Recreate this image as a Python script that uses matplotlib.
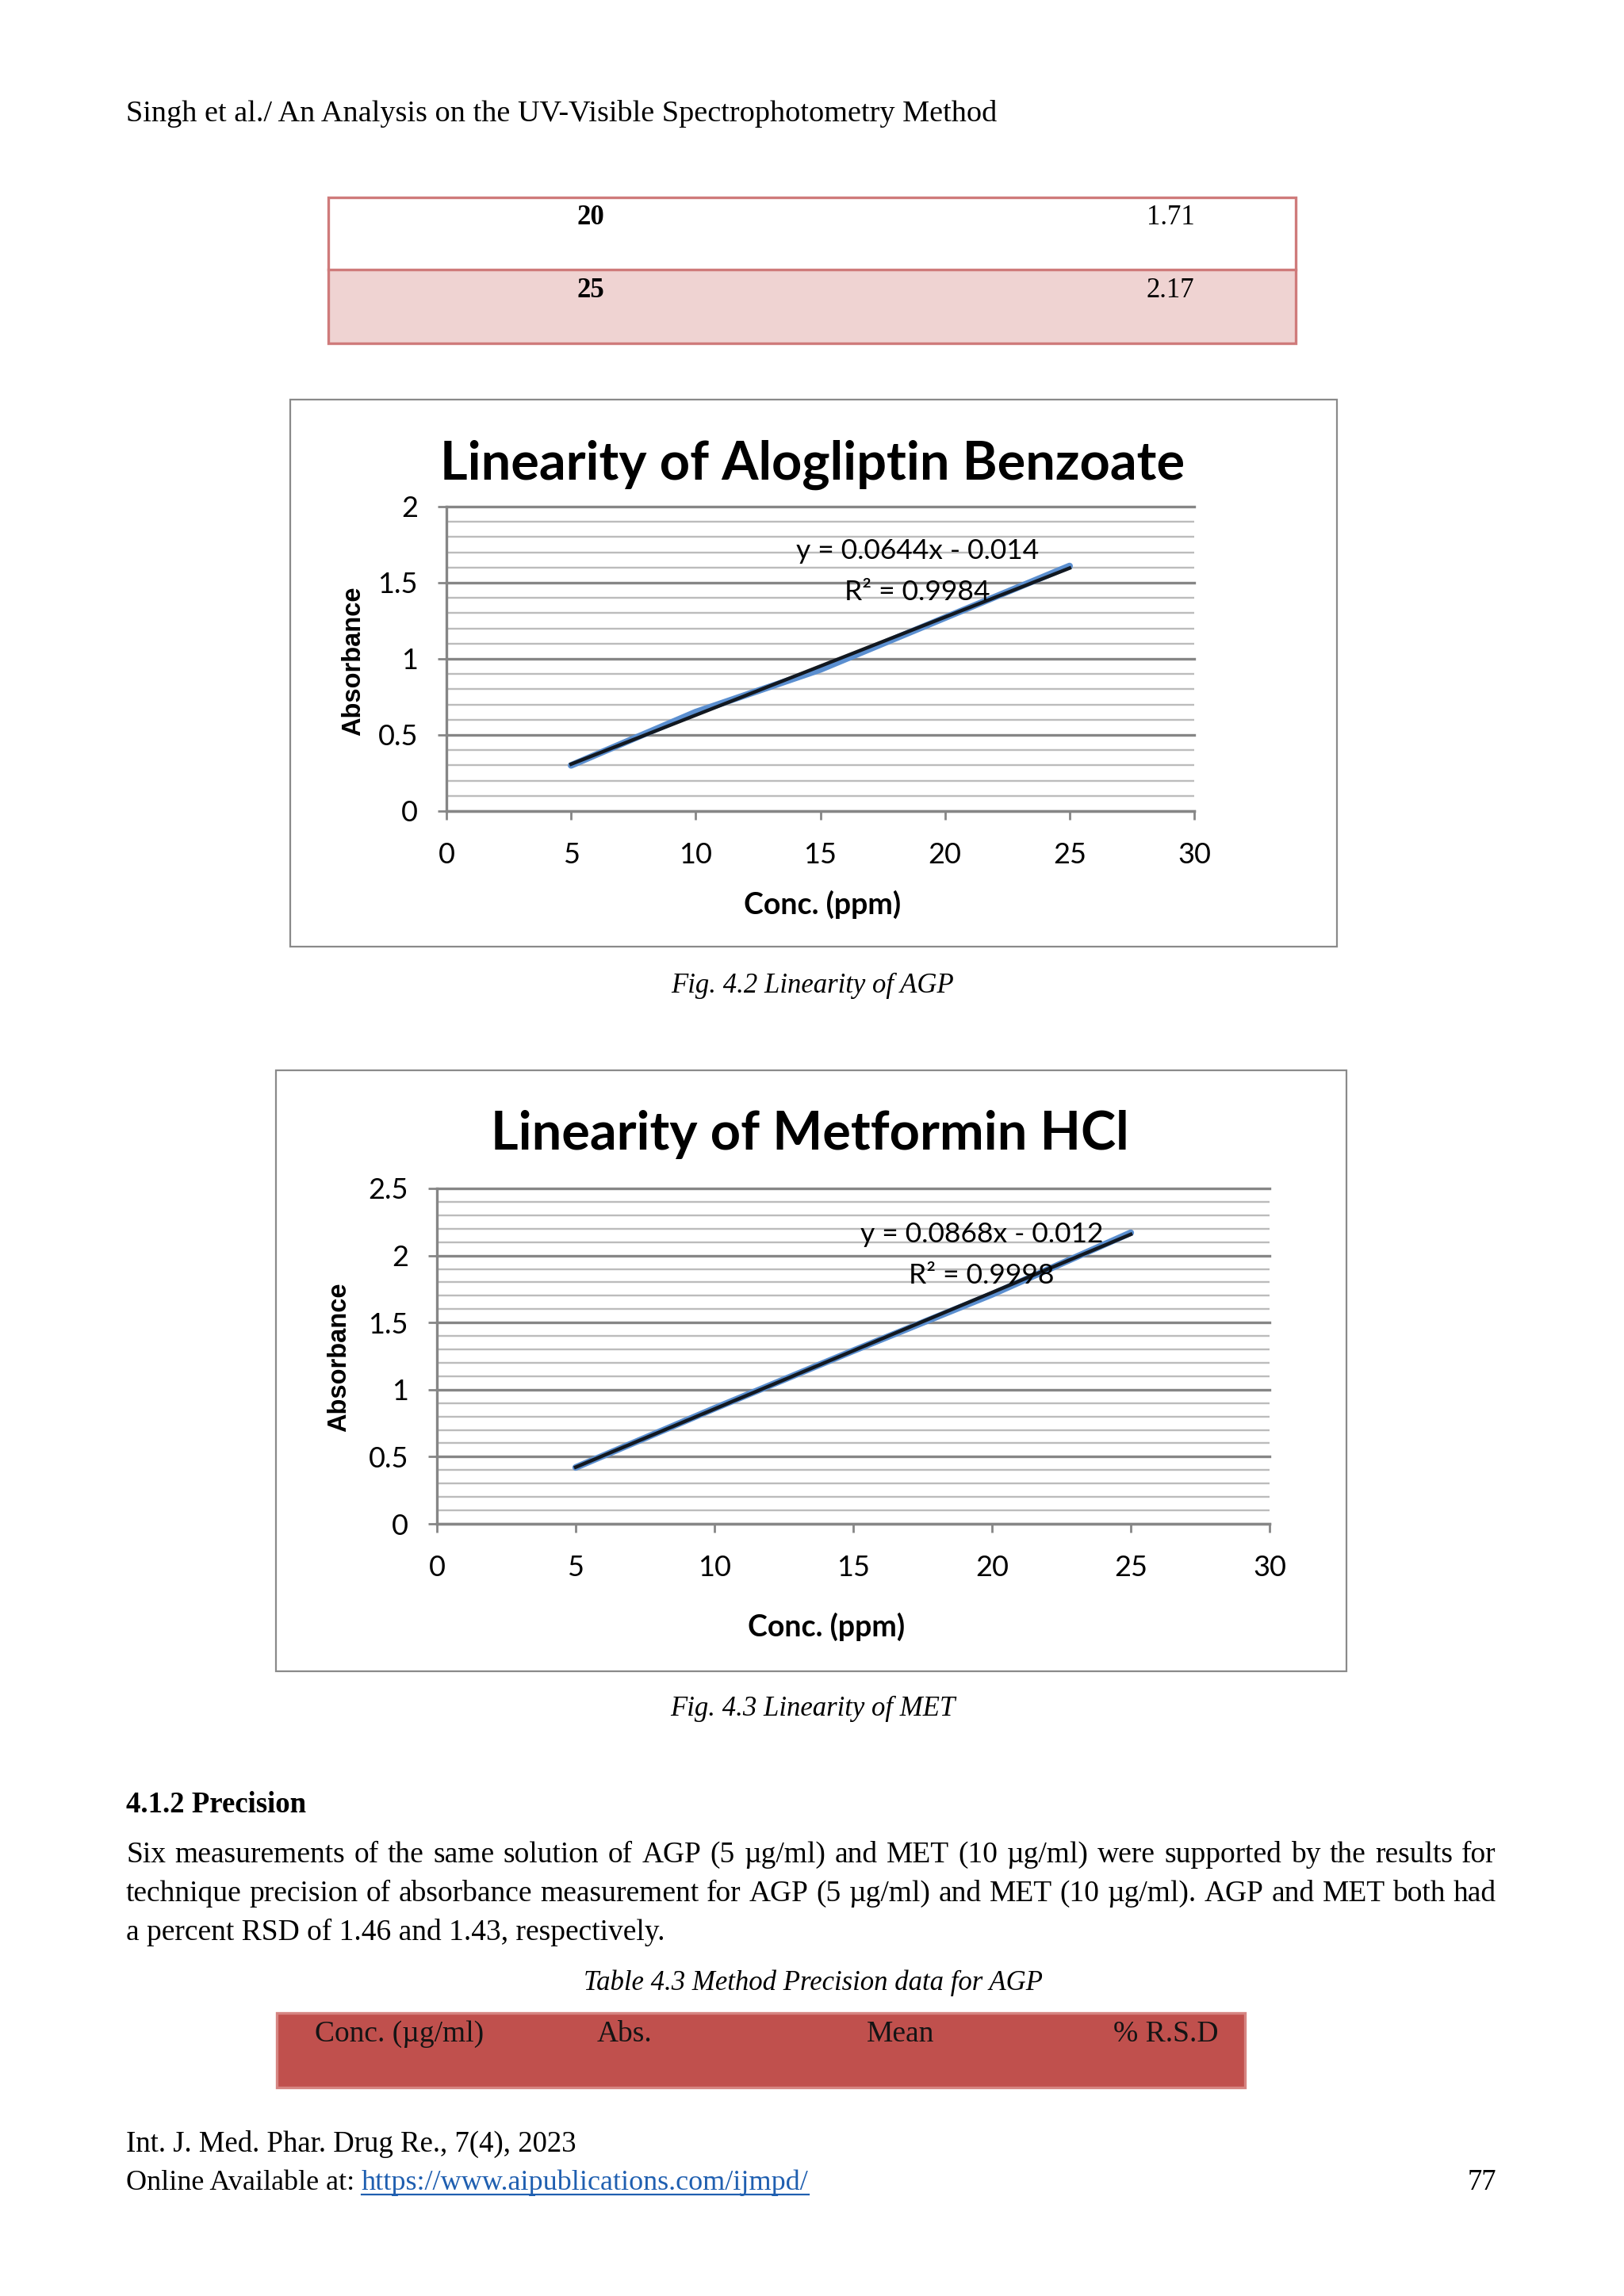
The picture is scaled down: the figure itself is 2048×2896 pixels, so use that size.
import numpy as np
import matplotlib
matplotlib.use('Agg')
import matplotlib.pyplot as plt
from matplotlib.patches import Rectangle
from matplotlib.lines import Line2D

# Page / chart data
conc_ppm = [5, 10, 15, 20, 25]
abs_agp = [0.30, 0.65, 0.93, 1.27, 1.61]
abs_met = [0.42, 0.86, 1.29, 1.71, 2.17]

slope_agp, icpt_agp, r2_agp = 0.0644, -0.014, 0.9984
slope_met, icpt_met, r2_met = 0.0868, -0.012, 0.9998

x_ticks = [0, 5, 10, 15, 20, 25, 30]
y_ticks_agp = [0, 0.5, 1, 1.5, 2]
y_labels_agp = ['0', '0.5', '1', '1.5', '2']
y_ticks_met = [0, 0.5, 1, 1.5, 2, 2.5]
y_labels_met = ['0', '0.5', '1', '1.5', '2', '2.5']

table_conc = ['20', '25']
table_abs = ['1.71', '2.17']
precision_headers = ['Conc. (µg/ml)', 'Abs.', 'Mean', '% R.S.D']

para_lines = [
    'Six measurements of the same solution of AGP (5 µg/ml) and MET (10 µg/ml) were supported by the results for',
    'technique precision of absorbance measurement for AGP (5 µg/ml) and MET (10 µg/ml). AGP and MET both had',
    'a percent RSD of 1.46 and 1.43, respectively.',
]

W, H = 2048, 2896
plt.rcParams['font.family'] = 'Lato'
SERIF = 'Liberation Serif'

fig = plt.figure(figsize=(W / 100, H / 100), dpi=100)
fig.patch.set_facecolor('white')
renderer = fig.canvas.get_renderer()


def fx(x):
    return x / W


def fy(y):
    return 1 - y / H


def box(x0, y0, x1, y1, **kw):
    fig.add_artist(Rectangle((fx(x0), fy(y1)), (x1 - x0) / W, (y1 - y0) / H,
                             transform=fig.transFigure, **kw))


def ptext(x, y, s, **kw):
    kw.setdefault('family', SERIF)
    kw.setdefault('va', 'baseline')
    return fig.text(fx(x), fy(y), s, **kw)


def width_of(t):
    return t.get_window_extent(renderer).width


def justify(line, y, x0, x1, **kw):
    words = line.split(' ')
    arts = [ptext(0, y, w, **kw) for w in words]
    widths = [width_of(a) for a in arts]
    gap = (x1 - x0 - sum(widths)) / (len(words) - 1)
    x = x0
    for a, w in zip(arts, widths):
        a.set_x(fx(x))
        x += w + gap


# Header
ptext(159, 153, 'Singh et al./ An Analysis on the UV-Visible Spectrophotometry Method', fontsize=27.5)

# Top table (tail of the MET linearity table)
box(414, 340, 1634, 433, facecolor='#efd3d2', edgecolor='none')
box(414, 249, 1634, 433, facecolor='none', edgecolor='#cf7b7b', lw=2.4)
fig.add_artist(Line2D([fx(414), fx(1634)], [fy(340), fy(340)], color='#cf7b7b', lw=2.4))
for i, (c, a) in enumerate(zip(table_conc, table_abs)):
    ptext(745, 283 + 92 * i, c, fontsize=25, weight='bold', ha='center')
    ptext(1476, 283 + 92 * i, a, fontsize=25, ha='center')


def linearity_chart(frame, area, title, title_xy, y, yt, ylab, slope, icpt, r2,
                    eq_xy, xlab_xy, ylab_xy):
    box(*frame, facecolor='none', edgecolor='#8a8a8a', lw=1.6)
    l, t, r, b = area
    ax = fig.add_axes([fx(l), fy(b), (r - l) / W, (b - t) / H])
    ax.set_xlim(0, 30)
    ax.set_ylim(0, yt[-1])
    ax.set_xticks(x_ticks)
    ax.set_yticks(yt)
    ax.set_yticklabels(ylab)
    ax.set_yticks(np.arange(0.1, yt[-1], 0.1), minor=True)
    ax.grid(which='major', axis='y', color='#868686', lw=2.4)
    ax.grid(which='minor', axis='y', color='#bcbcbc', lw=1.7)
    for g in ax.get_ygridlines():
        g.set_clip_on(False)
    ax.set_axisbelow(True)
    for s in ['top', 'right']:
        ax.spines[s].set_visible(False)
    for s in ['left', 'bottom']:
        ax.spines[s].set_color('#868686')
        ax.spines[s].set_linewidth(2.4)
    ax.tick_params(which='major', direction='out', length=8, width=2,
                   color='#868686', labelsize=26)
    ax.tick_params(axis='y', pad=18)
    ax.tick_params(axis='x', pad=20)
    ax.tick_params(which='minor', length=0)

    ax.plot(conc_ppm, y, color='#5b8fd0', lw=6, solid_capstyle='round')
    xt = np.array([conc_ppm[0], conc_ppm[-1]])
    ax.plot(xt, slope * xt + icpt, color='#121820', lw=3.2)

    fig.text(fx(title_xy[0]), fy(title_xy[1]), title, fontsize=48, weight='bold',
             ha='center', va='baseline')
    fig.text(fx(eq_xy[0]), fy(eq_xy[1]), f'y = {slope}x - {abs(icpt)}',
             fontsize=25.5, ha='center', va='center')
    fig.text(fx(eq_xy[0]), fy(eq_xy[1] + 52), f'R² = {r2}',
             fontsize=25.5, ha='center', va='center')
    fig.text(fx(xlab_xy[0]), fy(xlab_xy[1]), 'Conc. (ppm)', fontsize=27,
             weight='bold', ha='center', va='center')
    fig.text(fx(ylab_xy[0]), fy(ylab_xy[1]), 'Absorbance', fontsize=23.5,
             family='Liberation Sans', weight='bold', rotation=90,
             ha='center', va='center')
    return ax


linearity_chart((366, 504, 1686, 1194), (563, 639, 1506, 1023),
                'Linearity of Alogliptin Benzoate', (1025, 605),
                abs_agp, y_ticks_agp, y_labels_agp, slope_agp, icpt_agp, r2_agp,
                (1157, 695), (1037, 1141), (446, 834))
ptext(1025, 1252, 'Fig. 4.2 Linearity of AGP', fontsize=25, style='italic', ha='center')

linearity_chart((348, 1350, 1698, 2108), (551, 1499, 1601, 1922),
                'Linearity of Metformin HCl', (1021, 1450),
                abs_met, y_ticks_met, y_labels_met, slope_met, icpt_met, r2_met,
                (1238, 1557), (1042, 2052), (428, 1712))
ptext(1025, 2164, 'Fig. 4.3 Linearity of MET', fontsize=25, style='italic', ha='center')

# Precision section
ptext(159, 2286, '4.1.2 Precision', fontsize=26.5, weight='bold')
justify(para_lines[0], 2349, 159, 1887, fontsize=27)
justify(para_lines[1], 2398, 159, 1887, fontsize=27)
ptext(159, 2447, para_lines[2], fontsize=27)
ptext(1025, 2510, 'Table 4.3 Method Precision data for AGP', fontsize=25,
      style='italic', ha='center')

box(349, 2539, 1570, 2633, facecolor='#c0504d', edgecolor='#d68582', lw=2.4)
for hx, h in zip([397, 753, 1093, 1404], precision_headers):
    ptext(hx, 2575, h, fontsize=27, color='#141414')

# Footer
ptext(159, 2714, 'Int. J. Med. Phar. Drug Re., 7(4), 2023', fontsize=26.5)
pre = ptext(159, 2762, 'Online Available at: ', fontsize=26)
lx = 159 + width_of(pre)
link = ptext(lx, 2762, 'https://www.aipublications.com/ijmpd/', fontsize=26, color='#1f5fb0')
fig.add_artist(Line2D([fx(lx), fx(lx + width_of(link))], [fy(2768), fy(2768)],
                      color='#1f5fb0', lw=1.6))
ptext(1887, 2762, '77', fontsize=26.5, ha='right')

fig.savefig('out.png', dpi=100, facecolor='white')
